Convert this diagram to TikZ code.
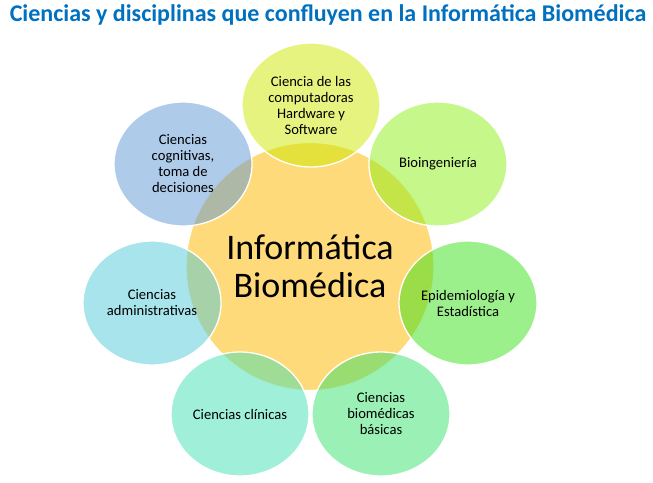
\documentclass[tikz,border=0pt]{standalone}
\usepackage{fontspec}
\setmainfont{Carlito}
\usetikzlibrary{shapes.geometric}
\definecolor{titleblue}{RGB}{0,112,192}
\definecolor{cCenter}{RGB}{255,218,122}
\definecolor{cTop}{RGB}{205,233,0}
\definecolor{cBio}{RGB}{139,239,21}
\definecolor{cEpi}{RGB}{57,225,25}
\definecolor{cBas}{RGB}{53,225,107}
\definecolor{cCli}{RGB}{65,223,177}
\definecolor{cAdm}{RGB}{81,201,217}
\definecolor{cCog}{RGB}{93,151,213}
\tikzset{
  outer/.style={ellipse, draw=white, line width=1.3pt, fill=#1, fill opacity=0.5, text opacity=1,
    minimum width=138pt, minimum height=124pt, inner sep=0pt, align=center,
    font=\fontsize{14.6}{16}\selectfont},
  hub/.style={circle, draw=white, line width=1.3pt, fill=cCenter, minimum size=248pt, inner sep=0pt,
    align=center, font=\fontsize{36}{38}\selectfont},
  titletext/.style={font=\fontsize{24}{28}\selectfont\bfseries, text=titleblue, inner sep=0pt}
}
\begin{document}
\begin{tikzpicture}[x=1pt,y=-1pt]
\useasboundingbox (0,0) rectangle (653,482);
\node[titletext] (title) at (328,15) {Ciencias y disciplinas que confluyen en la Informática Biomédica};
\node[hub] (hub) at (310,266.5) {Informática\\Biomédica};
\node[outer=cTop] (top) at (311,105) {Ciencia de las\\computadoras\\Hardware y\\Software};
\node[outer=cBio] (bio) at (438,164) {Bioingeniería};
\node[outer=cEpi] (epi) at (468,303) {Epidemiología y\\Estadística};
\node[outer=cBas] (bas) at (381,414) {Ciencias\\biomédicas\\básicas};
\node[outer=cCli] (cli) at (240,414) {Ciencias clínicas};
\node[outer=cAdm] (adm) at (152,303) {Ciencias\\administrativas};
\node[outer=cCog] (cog) at (183,164) {Ciencias\\cognitivas,\\toma de\\decisiones};
\end{tikzpicture}
\end{document}
